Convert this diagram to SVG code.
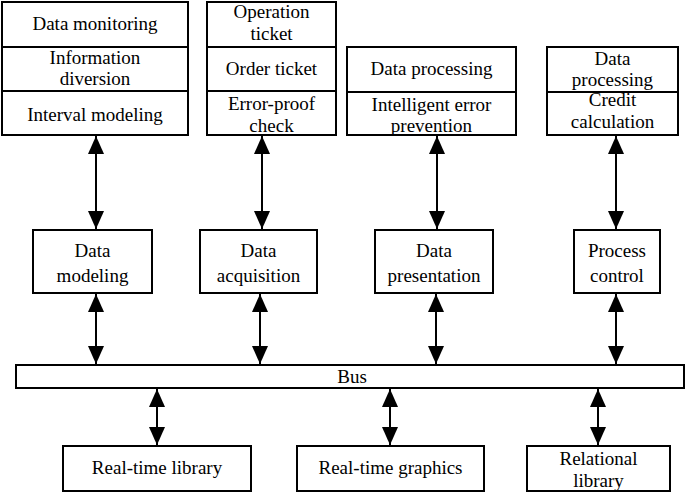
<svg xmlns="http://www.w3.org/2000/svg" width="685" height="493" viewBox="0 0 685 493">
<defs>
<style>
rect, line.div { fill: #fff; stroke: #000; stroke-width: 2; }
line.div { fill: none; }
text { font-family: "Liberation Serif", "Times New Roman", serif; font-size: 19px; fill: #000; text-anchor: middle; }
.conn line { stroke: #000; stroke-width: 2; marker-start: url(#ah); marker-end: url(#ah); }
</style>
<marker id="ah" markerUnits="userSpaceOnUse" markerWidth="18" markerHeight="16" refX="18" refY="8" orient="auto-start-reverse" viewBox="0 0 18 16">
<path d="M0,0 L18,8 L0,16 Z" fill="#000"/>
</marker>
</defs>
<rect x="0" y="0" width="685" height="493" style="stroke:none;fill:#fff"/>
<g id="n-top1">
<rect x="2" y="2" width="186" height="133"/>
<line class="div" x1="2" y1="47" x2="188" y2="47"/>
<line class="div" x1="2" y1="91" x2="188" y2="91"/>
<text x="95" y="30">Data monitoring</text>
<text x="95" y="64">Information</text>
<text x="95" y="85">diversion</text>
<text x="95" y="121">Interval modeling</text>
</g>
<g id="n-top2">
<rect x="207" y="2" width="129" height="133"/>
<line class="div" x1="207" y1="47" x2="336" y2="47"/>
<line class="div" x1="207" y1="91" x2="336" y2="91"/>
<text x="271.5" y="18">Operation</text>
<text x="271.5" y="40">ticket</text>
<text x="271.5" y="75">Order ticket</text>
<text x="271.5" y="110">Error-proof</text>
<text x="271.5" y="132">check</text>
</g>
<g id="n-top3">
<rect x="347" y="47" width="169" height="88"/>
<line class="div" x1="347" y1="92" x2="516" y2="92"/>
<text x="431.5" y="75">Data processing</text>
<text x="431.5" y="111">Intelligent error</text>
<text x="431.5" y="132">prevention</text>
</g>
<g id="n-top4">
<rect x="547" y="47" width="131" height="88"/>
<line class="div" x1="547" y1="92" x2="678" y2="92"/>
<text x="612.5" y="65">Data</text>
<text x="612.5" y="86">processing</text>
<text x="612.5" y="106">Credit</text>
<text x="612.5" y="128">calculation</text>
</g>
<g id="n-modeling">
<rect x="33" y="230" width="119" height="63"/>
<text x="92.5" y="257">Data</text>
<text x="92.5" y="282">modeling</text>
</g>
<g id="n-acquisition">
<rect x="200" y="230" width="117" height="63"/>
<text x="258.5" y="257">Data</text>
<text x="258.5" y="282">acquisition</text>
</g>
<g id="n-presentation">
<rect x="375" y="230" width="118" height="63"/>
<text x="434" y="257">Data</text>
<text x="434" y="282">presentation</text>
</g>
<g id="n-control">
<rect x="574" y="230" width="86" height="63"/>
<text x="617" y="257">Process</text>
<text x="617" y="282">control</text>
</g>
<g id="n-bus">
<rect x="16" y="365" width="668" height="23"/>
<text x="352" y="383">Bus</text>
</g>
<g id="n-rtlib">
<rect x="63" y="446" width="188" height="45"/>
<text x="157" y="474">Real-time library</text>
</g>
<g id="n-rtgraph">
<rect x="297" y="446" width="187" height="45"/>
<text x="390.5" y="474">Real-time graphics</text>
</g>
<g id="n-rellib">
<rect x="527" y="446" width="143" height="45"/>
<text x="598.5" y="465">Relational</text>
<text x="598.5" y="487">library</text>
</g>
<g id="connectors" class="conn">
<line x1="96" y1="136" x2="96" y2="229"/>
<line x1="262" y1="136" x2="262" y2="229"/>
<line x1="437" y1="136" x2="437" y2="229"/>
<line x1="616" y1="136" x2="616" y2="229"/>
<line x1="96" y1="294" x2="96" y2="364"/>
<line x1="260" y1="294" x2="260" y2="364"/>
<line x1="436" y1="294" x2="436" y2="364"/>
<line x1="616" y1="294" x2="616" y2="364"/>
<line x1="157" y1="389" x2="157" y2="445"/>
<line x1="390" y1="389" x2="390" y2="445"/>
<line x1="598" y1="389" x2="598" y2="445"/>
</g>
</svg>
